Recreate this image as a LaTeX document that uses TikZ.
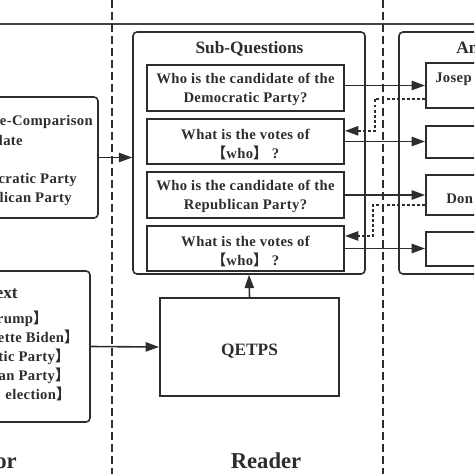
\documentclass[tikz,border=0pt]{standalone}
\usepackage{fontspec}
\setmainfont{Liberation Serif}
\newfontfamily\boxfont[LetterSpace=2.5]{Liberation Serif}
\newfontfamily\cjk{Noto Sans CJK SC}
\usetikzlibrary{fit,arrows.meta}
\definecolor{ink}{RGB}{45,45,45}
\newcommand{\opbr}{{\cjk 【}}
\newcommand{\clbr}{{\cjk 】}}
\tikzset{
  panel/.style={draw=ink, line width=1.2pt, rounded corners=3pt, inner sep=0pt},
  qbox/.style={draw=ink, line width=1.5pt, inner sep=0pt},
  qtxt/.style={inner sep=0pt, align=center, text=ink,
    font=\boxfont\bfseries\fontsize{11}{14.25}\selectfont},
  btxt/.style={inner sep=0pt, text=ink, font=\boxfont\bfseries\fontsize{11}{14.25}\selectfont},
  ttl/.style={inner sep=0pt, text=ink, font=\bfseries\fontsize{13}{15}\selectfont},
  big/.style={inner sep=0pt, text=ink, font=\bfseries\fontsize{17}{20}\selectfont},
  arr/.style={draw=ink, line width=1.2pt, -{Triangle[length=10pt,width=7pt]}},
  darr/.style={arr, dash pattern=on 2.2pt off 1.6pt},
  divider/.style={draw=ink, line width=1.3pt, dash pattern=on 6pt off 3pt}
}
\begin{document}
\begin{tikzpicture}[x=0.75pt,y=0.75pt,yscale=-1,xscale=1]
\path[use as bounding box] (0,0) rectangle (474,474);
\clip (0,0) rectangle (474,474);
\fill[white] (0,0) rectangle (474,474);

% top rule and column dividers
\draw[ink!90, line width=1pt] (0,24) -- (474,24);
\draw[divider] (112,0) -- (112,474);
\draw[divider] (383,0) -- (383,474);

% left column
\node[panel, fit={(-20,97) (98,218)}] (lt) {};
\node[btxt, anchor=base east] (lt1) at (93,126) {e-Comparison};
\node[btxt, anchor=base east] (lt2) at (23,146) {date};
\node[btxt, anchor=base east] (lt3) at (77,183) {cratic Party};
\node[btxt, anchor=base east] (lt4) at (72,202) {lican Party};

\node[panel, fit={(-20,271) (90,422)}] (lb) {};
\node[ttl, anchor=base east] (lb0) at (18,298) {ext};
\node[btxt, anchor=base east] (lb1) at (48,323) {rump\clbr};
\node[btxt, anchor=base east] (lb2) at (79,342) {ette Biden\clbr};
\node[btxt, anchor=base east] (lb3) at (70,361) {tic Party\clbr};
\node[btxt, anchor=base east] (lb4) at (70,380) {an Party\clbr};
\node[btxt, anchor=base east] (lb5) at (71,399) {election\clbr};

% reader column
\node[panel, fit={(133,32) (365,274)}] (sq) {};
\node[ttl, anchor=base] (sqt) at (249.5,54) {Sub-Questions};
\node[qbox, fit={(147,65) (344,111)}] (q1) {};
\node[qbox, fit={(147,119) (344,164)}] (q2) {};
\node[qbox, fit={(147,172) (344,218)}] (q3) {};
\node[qbox, fit={(147,226) (344,271)}] (q4) {};
\node[qtxt] (q1t) at ([yshift=1pt]q1.center) {Who is the candidate of the\\Democratic Party?};
\node[qtxt] (q2t) at ([yshift=2.5pt]q2.center) {What is the votes of\\\opbr who\clbr\ ?};
\node[qtxt] (q3t) at ([yshift=1pt]q3.center) {Who is the candidate of the\\Republican Party?};
\node[qtxt] (q4t) at ([yshift=2pt]q4.center) {What is the votes of\\\opbr who\clbr\ ?};

\node[qbox, fit={(160,298) (339,396)}] (qe) {};
\node[ttl] (qet) at ([yshift=3pt]qe.center) {QETPS};

% answer column
\node[panel, fit={(399,32) (500,274)}] (an) {};
\node[ttl, anchor=base west] (ant) at (456,54) {An};
\node[qbox, fit={(426,63) (500,108)}] (a1) {};
\node[qbox, fit={(426,126) (500,158)}] (a2) {};
\node[qbox, fit={(426,175) (500,215)}] (a3) {};
\node[qbox, fit={(426,232) (500,266)}] (a4) {};
\node[btxt, anchor=base west] (a1t) at (435,83) {Josep};
\node[btxt, anchor=base west] (a3t) at (446,203) {Don};

% connectors
\draw[arr] (lt.east) -- (lt.east -| sq.west);
\draw[arr] (lb.east) -- (qe.west);
\draw[arr] (qe.north) -- (sq.south);
\draw[arr] (q1.east |- a1.west) -- (a1.west);
\draw[arr] (q2.east) -- (q2.east -| a2.west);
\draw[arr] (q3.east) -- (q3.east -| a3.west);
\draw[arr] (q4.east) -- (q4.east -| a4.west);

\coordinate (k1) at (375,0);
\coordinate (k2) at (373,0);
\coordinate (d1s) at ([yshift=10pt]a1.west);
\coordinate (d1e) at ([yshift=-8pt]q2.east);
\coordinate (d2s) at ([yshift=7.5pt]a3.west);
\coordinate (d2e) at ([yshift=-9.4pt]q4.east);
\draw[darr] (d1s) -- (d1s -| k1) |- (d1e);
\draw[darr] (d2s) -- (d2s -| k2) |- (d2e);

% column labels
\node[big, anchor=base east] (gen) at (17,468) {or};
\node[big, anchor=base] (rd) at (266,468) {Reader};

\end{tikzpicture}
\end{document}
